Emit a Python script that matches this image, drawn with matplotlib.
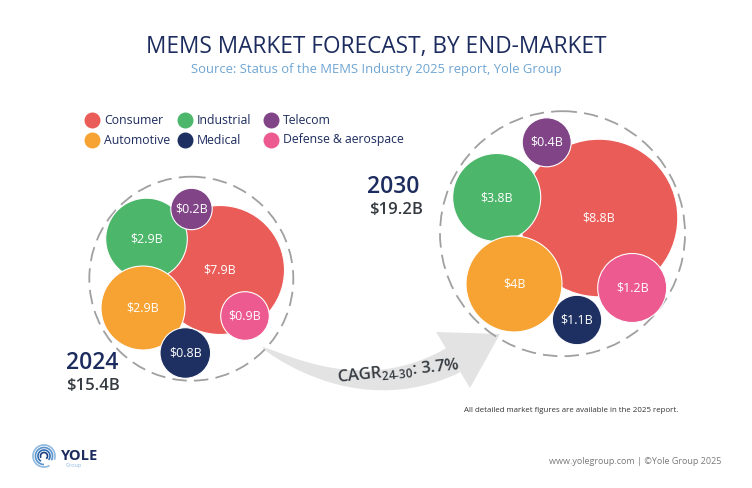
import matplotlib
matplotlib.use("Agg")
import numpy as np
import matplotlib.pyplot as plt
from matplotlib.patches import Circle, Arc, Polygon

plt.rcParams['font.family'] = ['Open Sans', 'DejaVu Sans']

# data
segments = ["Consumer", "Industrial", "Telecom", "Automotive", "Medical", "Defense & aerospace"]
colors = ["#ea5c58", "#4cb66a", "#804487", "#f6a333", "#1d3061", "#ec5a8f"]
values_2024 = [7.9, 2.9, 0.2, 2.9, 0.8, 0.9]
values_2030 = [8.8, 3.8, 0.4, 4.0, 1.1, 1.2]
years = ["2024", "2030"]
totals = [15.4, 19.2]
cagr = 3.7

# layout (pixel space, x right, y down): bubble centre and radius per segment
layout_2024 = [(220, 270, 64.5), (146.5, 239, 40.8), (191.5, 209, 20.7),
               (143, 308, 42), (185.3, 353, 25.3), (245, 316, 24.3)]
layout_2030 = [(599, 218, 78.8), (496.7, 197.5, 44), (546.7, 142.3, 24.5),
               (514, 284, 48), (577, 320, 24.7), (632.2, 288, 34.5)]
ring_2024 = (191.3, 278.7, 102)
ring_2030 = (562.5, 233.7, 122.5)

NAVY = "#1d2c5e"
DARK = "#343a40"

fig = plt.figure(figsize=(7.52, 4.88), dpi=100)
ax = fig.add_axes([0, 0, 1, 1])
ax.set_xlim(0, 752)
ax.set_ylim(488, 0)
ax.axis('off')


def draw_bubbles(values, layout, ring):
    rx, ry, rr = ring
    ax.add_patch(Circle((rx, ry), rr, fill=False, ec="#a0a0a0", lw=1.3,
                        ls=(0, (8, 4)), zorder=1))
    for v, (x, y, r), c in zip(values, layout, colors):
        ax.add_patch(Circle((x, y), r, fc=c, ec="white", lw=0.8, zorder=2))
        ax.text(x, y, "${:g}B".format(v), color="white", fontsize=9,
                ha="center", va="center", zorder=3)


draw_bubbles(values_2024, layout_2024, ring_2024)
draw_bubbles(values_2030, layout_2030, ring_2030)

# titles
ax.text(376, 47, "MEMS MARKET FORECAST, BY END-MARKET", color=NAVY,
        fontsize=16.3, fontweight="medium", ha="center", va="center")
ax.text(376, 69, "Source: Status of the MEMS Industry 2025 report, Yole Group",
        color="#6fa5d2", fontsize=9.4, ha="center", va="center")

# legend
leg_x = [92, 185, 271]
leg_y = [120, 140]
for i, (name, c) in enumerate(zip(segments, colors)):
    x = leg_x[i % 3]
    y = leg_y[i // 3]
    ax.scatter([x], [y], s=110, color=c, zorder=3)
    ax.text(x + 12, y, name, color=NAVY, fontsize=8.8, ha="left", va="center")

# year labels
ax.text(66, 363, years[0], color=NAVY, fontsize=16.5, fontweight="semibold",
        ha="left", va="center")
ax.text(66, 386, "${:g}B".format(totals[0]), color=DARK, fontsize=12,
        fontweight="semibold", ha="left", va="center")
ax.text(367, 187, years[1], color=NAVY, fontsize=16.5, fontweight="semibold",
        ha="left", va="center")
ax.text(369, 210, "${:g}B".format(totals[1]), color=DARK, fontsize=12,
        fontweight="semibold", ha="left", va="center")

# growth arrow: tapered curved tail + triangular head
p0 = np.array([262.0, 347.0])
pc = np.array([366.0, 406.0])
p2 = np.array([453.5, 360.0])
t = np.linspace(0, 1, 80)[:, None]
centre = (1 - t) ** 2 * p0 + 2 * (1 - t) * t * pc + t ** 2 * p2
deriv = 2 * (1 - t) * (pc - p0) + 2 * t * (p2 - pc)
normal = np.column_stack([-deriv[:, 1], deriv[:, 0]])
normal /= np.linalg.norm(normal, axis=1)[:, None]
half = 14 * t[:, 0] ** 0.6
upper = centre + normal * half[:, None]
lower = centre - normal * half[:, None]
tail = np.vstack([upper, lower[::-1]])
ax.add_patch(Polygon(tail, closed=True, fc="#e3e3e3", ec="none", zorder=0))
ax.add_patch(Polygon([(436, 332), (500, 334), (470, 388)], closed=True,
                     fc="#e3e3e3", ec="none", zorder=0))
ax.text(398, 371, "CAGR$_{\\mathregular{24\u201030}}$: " + "{:g}%".format(cagr),
        color=DARK, fontsize=12, fontweight="semibold", rotation=6,
        ha="center", va="center", zorder=4)

ax.text(464, 411, "All detailed market figures are available in the 2025 report.",
        color="#333333", fontsize=5.7, ha="left", va="center")

# footer
for k, (rad, col) in enumerate([(11, "#8fb9df"), (8.5, "#5b93cc"), (6, "#2f6db3"), (3.5, "#1d3f80")]):
    ax.add_patch(Arc((44, 456), 2 * rad, 2 * rad, theta1=60 + 30 * k, theta2=380 + 10 * k,
                     color=col, lw=1.2))
ax.text(61, 456, "YOLE", color=NAVY, fontsize=10.5, fontweight="bold",
        ha="left", va="center")
ax.text(66, 466, "Group", color="#8fb9df", fontsize=4, ha="left", va="center")
ax.text(721, 461, "www.yolegroup.com | \u00a9Yole Group 2025", color="#7a7a7a",
        fontsize=6.5, ha="right", va="center")

fig.savefig("out.png", dpi=100)
